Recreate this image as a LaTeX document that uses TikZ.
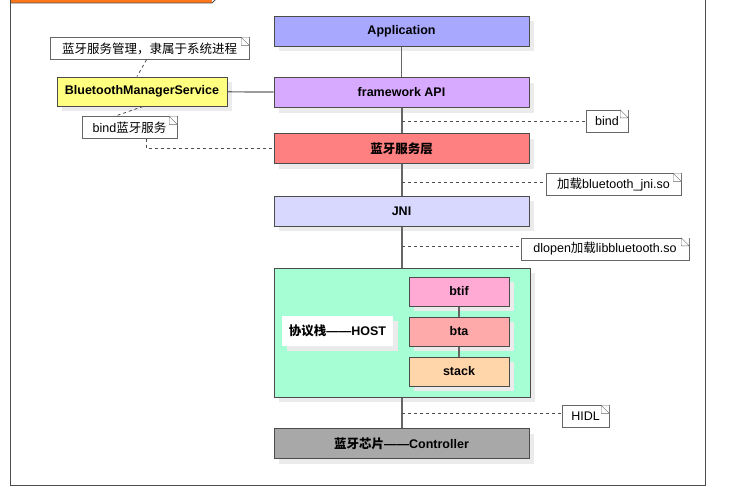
\documentclass[tikz,border=0pt]{standalone}
\usepackage{fontspec}
\setmainfont{Liberation Sans}
\newfontfamily\cjk{Noto Sans CJK SC}
\usetikzlibrary{shadows}
\begin{document}
\begin{tikzpicture}[x=1pt,y=-1pt,font=\fontsize{12.5}{14}\selectfont,
 box/.style={draw=black!70,line width=1pt,minimum height=30pt,inner sep=0pt,font=\fontsize{12.5}{14}\selectfont\bfseries,drop shadow={shadow xshift=5pt,shadow yshift=-5pt,fill=black!8,opacity=1}},
 note/.style={draw=black!60,fill=white,inner sep=2pt,minimum height=22pt},
 dl/.style={dashed,black!70,line width=0.8pt},
 ln/.style={black!60,line width=1.2pt}]
\useasboundingbox (0,0) rectangle (744,496);
\fill[orange!80!red!90] (10,-5) rectangle (212,3);
\draw[black!70,line width=0.8pt] (10,-5) -- (10,485) -- (705,485) -- (705,-5);
\draw[black!70,line width=0.8pt] (10,3) -- (212,3) -- (217,-2);
\node[box,fill={rgb,255:red,168;green,168;blue,255},minimum width=255pt] (app) at (401.5,31) {Application};
\node[box,fill={rgb,255:red,216;green,170;blue,255},minimum width=255pt] (fw) at (401.5,92.5) {framework API};
\node[box,fill={rgb,255:red,255;green,128;blue,128},minimum width=255pt] (svc) at (401.5,148.5) {\cjk 蓝牙服务层};
\node[box,fill={rgb,255:red,216;green,216;blue,255},minimum width=255pt] (jni) at (401.5,211) {JNI};
\node[box,fill={rgb,255:red,166;green,255;blue,212},minimum width=256pt,minimum height=129pt] (host) at (402,332.5) {};
\node[box,fill={rgb,255:red,168;green,168;blue,168},minimum width=255pt] (ctl) at (401.5,443.5) {{\cjk 蓝牙芯片}——Controller};
\node[fill=white,minimum width=111pt,minimum height=30pt,inner sep=0pt,font=\fontsize{12.5}{14}\selectfont\bfseries,drop shadow={shadow xshift=5pt,shadow yshift=-5pt,fill=black!8,opacity=1}] (hl) at (337.5,331) {{\cjk 协议栈}——HOST};
\node[box,fill={rgb,255:red,255;green,170;blue,213},minimum width=100pt,minimum height=29pt] (btif) at (459,291.5) {btif};
\node[box,fill={rgb,255:red,255;green,170;blue,170},minimum width=100pt,minimum height=29pt] (bta) at (459,331.5) {bta};
\node[box,fill={rgb,255:red,255;green,213;blue,170},minimum width=100pt,minimum height=29pt] (stack) at (459,371.5) {stack};
\draw[ln] (btif) -- (bta) (bta) -- (stack);
\draw[ln] (app) -- (fw);
\draw[ln] ([xshift=0.5pt]fw.south) -- ([xshift=0.5pt]svc.north);
\draw[ln] ([xshift=0.5pt]svc.south) -- ([xshift=0.5pt]jni.north);
\draw[ln] ([xshift=0.5pt]jni.south) -- (host.north);
\draw[ln] (host.south) -- ([xshift=0.5pt]ctl.north);
\node[box,fill={rgb,255:red,255;green,255;blue,128},minimum width=170pt,minimum height=29pt] (bms) at (142,91.5) {BluetoothManagerService};
\draw[ln] (bms) -- (fw);
% notes
\node[note,minimum width=199pt] (n1) at (149.5,48.5) {\cjk 蓝牙服务管理，隶属于系统进程};
\node[note,minimum width=95pt] (n2) at (129.5,127.5) {bind{\cjk 蓝牙服务}};
\node[note,minimum width=42pt] (n3) at (607,121) {bind};
\node[note,minimum width=135pt] (n4) at (613.5,184.5) {{\cjk 加载}bluetooth\_jni.so};
\node[note,minimum width=168pt] (n5) at (605,249) {dlopen{\cjk 加载}libbluetooth.so};
\node[note,minimum width=47pt] (n6) at (585.5,416.5) {HIDL};
\foreach \n in {n1,n2,n3,n4,n5,n6}{
 \fill[white] ([xshift=-8pt]\n.north east) -- (\n.north east) -- ([yshift=-8pt]\n.north east) -- cycle;
 \draw[black!60] ([xshift=-8pt]\n.north east) -- ([xshift=-8pt,yshift=-8pt]\n.north east) -- ([yshift=-8pt]\n.north east) -- cycle;}
\coordinate (c1) at (402,121); \coordinate (c4) at (402,182);
\coordinate (c5) at (402,246); \coordinate (c6) at (402,413);
\draw[dl] ([xshift=-3pt]n1.south) -- ([xshift=-5pt]bms.north);
\draw[dl] ([xshift=1pt]bms.south) -- ([xshift=-15pt]n2.north);
\draw[dl] ([xshift=17pt]n2.south) |- (svc.west);
\draw[dl] (c1) -- (c1 -| n3.west);
\draw[dl] (c4) -- (c4 -| n4.west);
\draw[dl] (c5) -- (c5 -| n5.west);
\draw[dl] (c6) -- (c6 -| n6.west);
\end{tikzpicture}
\end{document}
